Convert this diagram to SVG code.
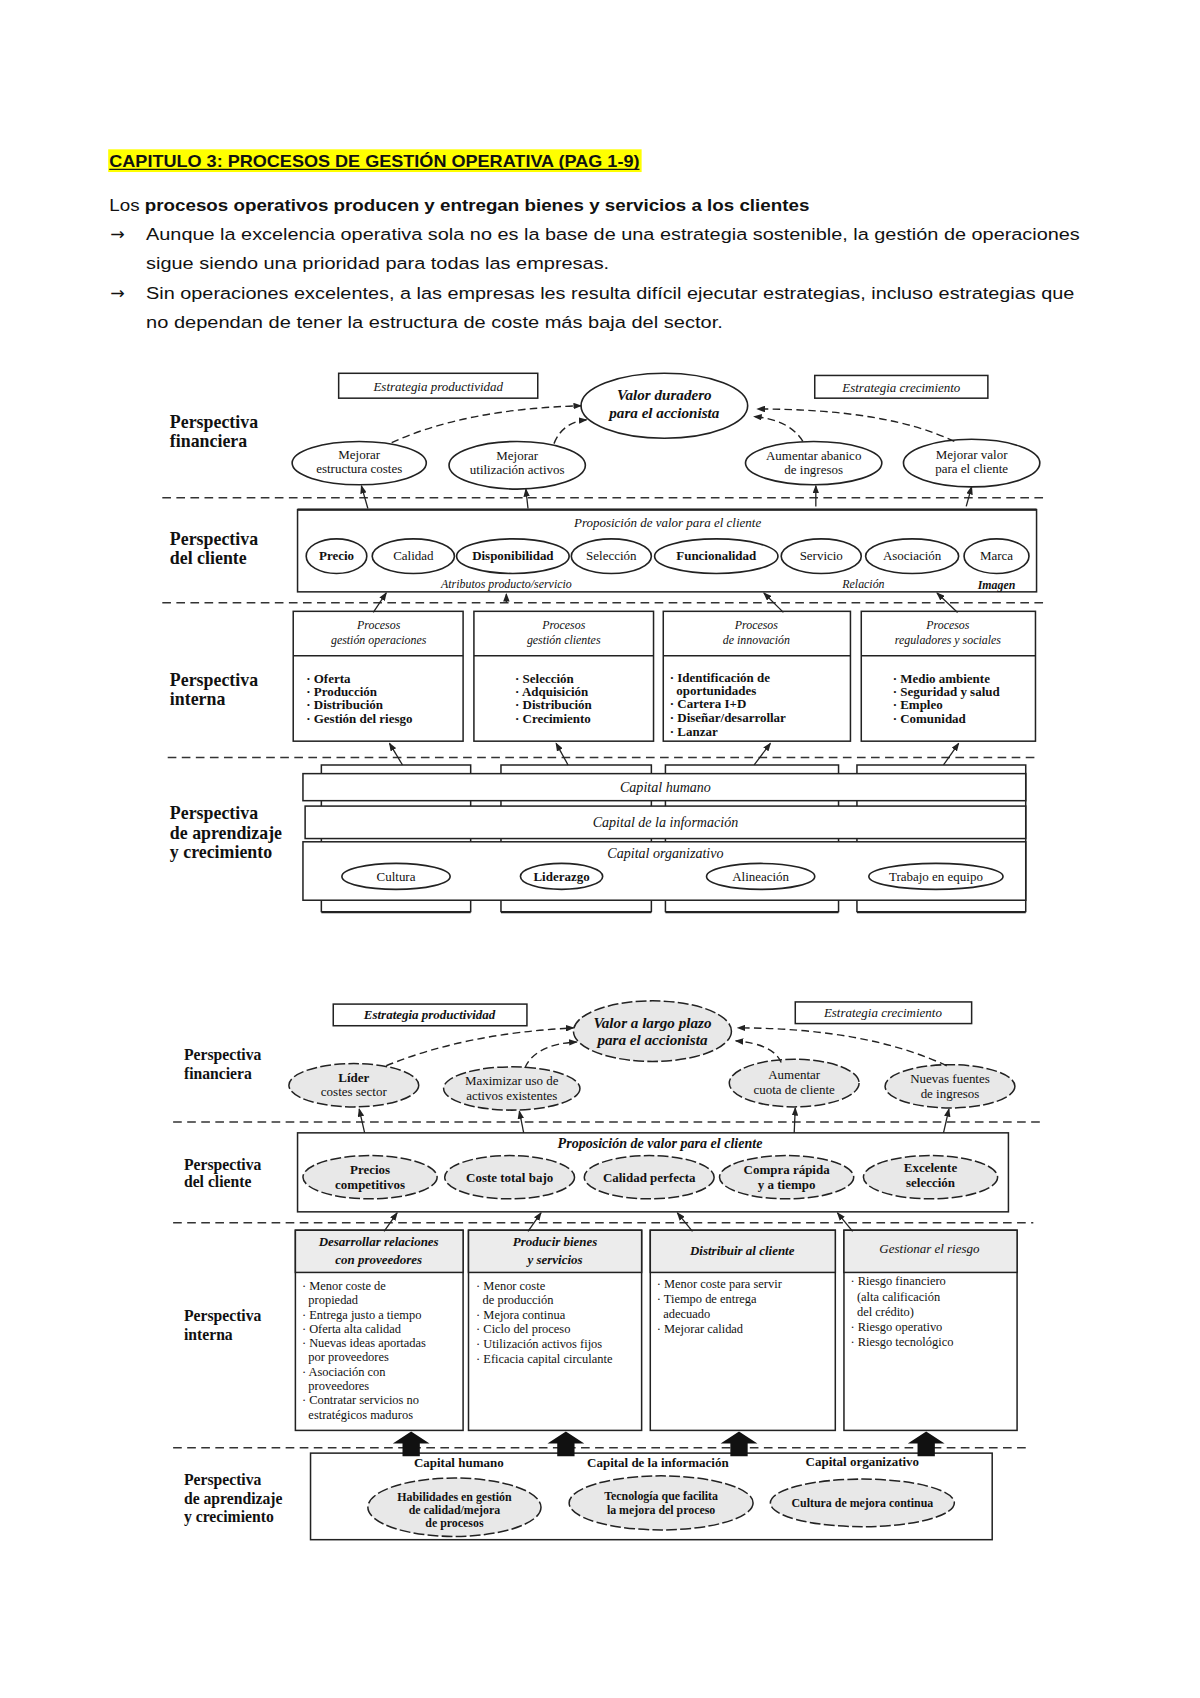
<svg xmlns="http://www.w3.org/2000/svg" width="1200" height="1698" viewBox="0 0 1200 1698">
<defs>
<style>
.hdr{font-family:"Liberation Sans Narrow","Liberation Sans",Arial,sans-serif;font-size:16px;fill:#111}
.arw{font-family:"DejaVu Sans",sans-serif;font-size:16px;fill:#111}
.s{font-family:"Liberation Serif","Times New Roman",serif;fill:#111}
.lbl{font-size:16.5px;font-weight:bold}
.el{font-size:12px}
.it{font-style:italic}
.b{font-weight:bold}
.ln{fill:none;stroke:#222;stroke-width:1.4}
.dash{fill:none;stroke:#333;stroke-width:1.4;stroke-dasharray:8 5}
.box{fill:#fff;stroke:#222;stroke-width:1.4}
.gbox{fill:#ececec;stroke:#222;stroke-width:1.4}
.ell{fill:#fff;stroke:#222;stroke-width:1.5}
.gell{fill:#e8e8e8;stroke:#222;stroke-width:1.4;stroke-dasharray:10 3}
.arr{fill:none;stroke:#222;stroke-width:1.2;marker-end:url(#ah)}
.darr{fill:none;stroke:#222;stroke-width:1.3;stroke-dasharray:7 4;marker-end:url(#ah)}
.blk{fill:#111}
</style>
<marker id="ah" markerWidth="8" markerHeight="6" refX="7" refY="3" orient="auto" markerUnits="userSpaceOnUse">
<path d="M0,0 L8,3 L0,6 z" fill="#222"/>
</marker>
</defs>
<rect width="1200" height="1698" fill="#fff"/>
<g transform="scale(1.082)">
<g id="header">
<rect x="100" y="138" width="493" height="21" fill="#ffff00"/>
<text class="hdr b" x="101" y="154" textLength="490" lengthAdjust="spacingAndGlyphs" font-weight="bold">CAPITULO 3: PROCESOS DE GESTIÓN OPERATIVA (PAG 1-9)</text>
<line x1="101" y1="156.5" x2="591" y2="156.5" stroke="#111" stroke-width="1.2"/>
<text class="hdr" x="101" y="195" textLength="647" lengthAdjust="spacingAndGlyphs">Los <tspan font-weight="bold">procesos operativos producen y entregan bienes y servicios a los clientes</tspan></text>
<text class="arw" x="102" y="222">→</text>
<text class="hdr" x="135" y="222" textLength="863" lengthAdjust="spacingAndGlyphs">Aunque la excelencia operativa sola no es la base de una estrategia sostenible, la gestión de operaciones</text>
<text class="hdr" x="135" y="249" textLength="428" lengthAdjust="spacingAndGlyphs">sigue siendo una prioridad para todas las empresas.</text>
<text class="arw" x="102" y="276">→</text>
<text class="hdr" x="135" y="276" textLength="858" lengthAdjust="spacingAndGlyphs">Sin operaciones excelentes, a las empresas les resulta difícil ejecutar estrategias, incluso estrategias que</text>
<text class="hdr" x="135" y="303" textLength="533" lengthAdjust="spacingAndGlyphs">no dependan de tener la estructura de coste más baja del sector.</text>
</g>

<!-- ===== Diagram 1 ===== -->
<g id="d1-labels" class="s lbl">
<text x="157" y="396">Perspectiva</text><text x="157" y="413">financiera</text>
<text x="157" y="504">Perspectiva</text><text x="157" y="521">del cliente</text>
<text x="157" y="634">Perspectiva</text><text x="157" y="652">interna</text>
<text x="157" y="757">Perspectiva</text><text x="157" y="775">de aprendizaje</text><text x="157" y="793">y crecimiento</text>
</g>
<g id="d1-separators">
<line class="dash" x1="150" y1="460" x2="965" y2="460"/>
<line class="dash" x1="150" y1="557" x2="965" y2="557"/>
<line class="dash" x1="155" y1="700" x2="960" y2="700"/>
</g>
<g id="d1-strat-prod"><rect class="box" x="313" y="345" width="184" height="23"/><text class="s it el" x="405" y="361" text-anchor="middle">Estrategia productividad</text></g>
<g id="d1-strat-crec"><rect class="box" x="753" y="347" width="160" height="21"/><text class="s it el" x="833" y="362" text-anchor="middle">Estrategia crecimiento</text></g>
<g id="d1-valor"><ellipse class="ell" cx="614" cy="375" rx="77" ry="30"/><text class="s it b" font-size="14" x="614" y="370" text-anchor="middle">Valor duradero</text><text class="s it b" font-size="14" x="614" y="386" text-anchor="middle">para el accionista</text></g>
<g id="d1-f1"><ellipse class="ell" cx="332" cy="428" rx="62" ry="20"/><text class="s el" x="332" y="424" text-anchor="middle">Mejorar</text><text class="s el" x="332" y="437" text-anchor="middle">estructura costes</text></g>
<g id="d1-f2"><ellipse class="ell" cx="478" cy="430" rx="63" ry="22"/><text class="s el" x="478" y="425" text-anchor="middle">Mejorar</text><text class="s el" x="478" y="438" text-anchor="middle">utilización activos</text></g>
<g id="d1-f3"><ellipse class="ell" cx="752" cy="428" rx="63" ry="20"/><text class="s el" x="752" y="425" text-anchor="middle">Aumentar abanico</text><text class="s el" x="752" y="438" text-anchor="middle">de ingresos</text></g>
<g id="d1-f4"><ellipse class="ell" cx="898" cy="428" rx="63" ry="22"/><text class="s el" x="898" y="424" text-anchor="middle">Mejorar valor</text><text class="s el" x="898" y="437" text-anchor="middle">para el cliente</text></g>

<g id="d1-client">
<rect class="box" x="275" y="471" width="683" height="76"/>
<line x1="275" y1="471" x2="958" y2="471" stroke="#222" stroke-width="2"/>
<text class="s it el" x="617" y="487" text-anchor="middle">Proposición de valor para el cliente</text>
<ellipse class="ell" cx="311" cy="514" rx="28" ry="16"/><text class="s el b" x="311" y="518" text-anchor="middle">Precio</text>
<ellipse class="ell" cx="382" cy="514" rx="38" ry="16"/><text class="s el" x="382" y="518" text-anchor="middle">Calidad</text>
<ellipse class="ell" cx="474" cy="514" rx="52" ry="16"/><text class="s el b" x="474" y="518" text-anchor="middle">Disponibilidad</text>
<ellipse class="ell" cx="565" cy="514" rx="37" ry="16"/><text class="s el" x="565" y="518" text-anchor="middle">Selección</text>
<ellipse class="ell" cx="662" cy="514" rx="57" ry="16"/><text class="s el b" x="662" y="518" text-anchor="middle">Funcionalidad</text>
<ellipse class="ell" cx="759" cy="514" rx="37" ry="16"/><text class="s el" x="759" y="518" text-anchor="middle">Servicio</text>
<ellipse class="ell" cx="843" cy="514" rx="43" ry="16"/><text class="s el" x="843" y="518" text-anchor="middle">Asociación</text>
<ellipse class="ell" cx="921" cy="514" rx="30" ry="16"/><text class="s el" x="921" y="518" text-anchor="middle">Marca</text>
<text class="s it" font-size="11" x="468" y="543" text-anchor="middle">Atributos producto/servicio</text>
<text class="s it" font-size="11" x="798" y="543" text-anchor="middle">Relación</text>
<text class="s it b" font-size="11" x="921" y="544" text-anchor="middle">Imagen</text>
</g>

<g id="d1-int1"><rect class="box" x="271" y="565" width="157" height="120"/><line class="ln" x1="271" y1="606" x2="428" y2="606"/>
<text class="s it" font-size="11" x="350" y="581" text-anchor="middle">Procesos</text><text class="s it" font-size="11" x="350" y="595" text-anchor="middle">gestión operaciones</text>
<text class="s el b" x="283" y="631">· Oferta</text><text class="s el b" x="283" y="643">· Producción</text><text class="s el b" x="283" y="655">· Distribución</text><text class="s el b" x="283" y="668">· Gestión del riesgo</text></g>
<g id="d1-int2"><rect class="box" x="438" y="565" width="166" height="120"/><line class="ln" x1="438" y1="606" x2="604" y2="606"/>
<text class="s it" font-size="11" x="521" y="581" text-anchor="middle">Procesos</text><text class="s it" font-size="11" x="521" y="595" text-anchor="middle">gestión clientes</text>
<text class="s el b" x="476" y="631">· Selección</text><text class="s el b" x="476" y="643">· Adquisición</text><text class="s el b" x="476" y="655">· Distribución</text><text class="s el b" x="476" y="668">· Crecimiento</text></g>
<g id="d1-int3"><rect class="box" x="613" y="565" width="173" height="120"/><line class="ln" x1="613" y1="606" x2="786" y2="606"/>
<text class="s it" font-size="11" x="699" y="581" text-anchor="middle">Procesos</text><text class="s it" font-size="11" x="699" y="595" text-anchor="middle">de innovación</text>
<text class="s el b" x="619" y="630">· Identificación de</text><text class="s el b" x="625" y="642">oportunidades</text><text class="s el b" x="619" y="654">· Cartera I+D</text><text class="s el b" x="619" y="667">· Diseñar/desarrollar</text><text class="s el b" x="619" y="680">· Lanzar</text></g>
<g id="d1-int4"><rect class="box" x="796" y="565" width="161" height="120"/><line class="ln" x1="796" y1="606" x2="957" y2="606"/>
<text class="s it" font-size="11" x="876" y="581" text-anchor="middle">Procesos</text><text class="s it" font-size="11" x="876" y="595" text-anchor="middle">reguladores y sociales</text>
<text class="s el b" x="825" y="631">· Medio ambiente</text><text class="s el b" x="825" y="643">· Seguridad y salud</text><text class="s el b" x="825" y="655">· Empleo</text><text class="s el b" x="825" y="668">· Comunidad</text></g>

<g id="d1-learning">
<g fill="none" stroke="#222" stroke-width="1.4">
<path d="M297 843 V707 H435 V843 M463 843 V707 H602 V843 M615 843 V707 H775 V843 M792 843 V707 H948 V843"/>
<path d="M297 843 H435 M463 843 H602 M615 843 H775 M792 843 H948" stroke-width="2.2"/>
</g>
<rect class="box" x="280" y="715" width="668" height="25"/>
<text class="s it" font-size="13" x="615" y="732" text-anchor="middle">Capital humano</text>
<rect class="box" x="282" y="745" width="666" height="30"/>
<text class="s it" font-size="13" x="615" y="764" text-anchor="middle">Capital de la información</text>
<rect class="box" x="280" y="778" width="668" height="54"/>
<text class="s it" font-size="13" x="615" y="793" text-anchor="middle">Capital organizativo</text>
<ellipse class="ell" cx="366" cy="810" rx="50" ry="12"/><text class="s el" x="366" y="814" text-anchor="middle">Cultura</text>
<ellipse class="ell" cx="519" cy="810" rx="38" ry="12"/><text class="s el b" x="519" y="814" text-anchor="middle">Liderazgo</text>
<ellipse class="ell" cx="703" cy="810" rx="50" ry="12"/><text class="s el" x="703" y="814" text-anchor="middle">Alineación</text>
<ellipse class="ell" cx="865" cy="810" rx="62" ry="12"/><text class="s el" x="865" y="814" text-anchor="middle">Trabajo en equipo</text>
</g>

<g id="d1-connectors">
<path class="darr" d="M362 409 Q430 378 537 375"/>
<path class="darr" d="M512 410 Q520 390 542 388"/>
<path class="darr" d="M742 408 Q730 388 697 385"/>
<path class="darr" d="M882 408 Q820 378 700 378"/>
<path class="arr" d="M340 470 L334 449"/>
<path class="arr" d="M488 470 L486 452"/>
<path class="arr" d="M754 468 L754 449"/>
<path class="arr" d="M893 468 L898 450"/>
<path class="arr" d="M345 566 L357 548"/>
<path class="arr" d="M468 557 L468 549"/>
<path class="arr" d="M724 566 L706 548"/>
<path class="arr" d="M885 566 L866 548"/>
<path class="arr" d="M372 707 L360 687"/>
<path class="arr" d="M525 707 L514 687"/>
<path class="arr" d="M697 707 L712 687"/>
<path class="arr" d="M872 707 L886 687"/>
</g>

<!-- ===== Diagram 2 ===== -->
<g id="d2-labels" class="s" font-size="14.5" font-weight="bold">
<text x="170" y="980">Perspectiva</text><text x="170" y="997">financiera</text>
<text x="170" y="1081">Perspectiva</text><text x="170" y="1097">del cliente</text>
<text x="170" y="1221">Perspectiva</text><text x="170" y="1238">interna</text>
<text x="170" y="1372">Perspectiva</text><text x="170" y="1390">de aprendizaje</text><text x="170" y="1407">y crecimiento</text>
</g>
<g id="d2-separators">
<line class="dash" x1="160" y1="1037" x2="965" y2="1037"/>
<line class="dash" x1="160" y1="1130" x2="955" y2="1130"/>
<line class="dash" x1="160" y1="1338" x2="950" y2="1338"/>
</g>
<g id="d2-strat-prod"><rect class="box" x="308" y="928" width="179" height="20"/><text class="s it b el" x="397" y="942" text-anchor="middle">Estrategia productividad</text></g>
<g id="d2-strat-crec"><rect class="box" x="735" y="926" width="163" height="20"/><text class="s it el" x="816" y="940" text-anchor="middle">Estrategia crecimiento</text></g>
<g id="d2-valor"><ellipse class="gell" cx="603" cy="953" rx="73" ry="28"/><text class="s it b" font-size="14" x="603" y="950" text-anchor="middle">Valor a largo plazo</text><text class="s it b" font-size="14" x="603" y="966" text-anchor="middle">para el accionista</text></g>
<g id="d2-f1"><ellipse class="gell" cx="327" cy="1003" rx="60" ry="20"/><text class="s el b" x="327" y="1000" text-anchor="middle">Líder</text><text class="s el" x="327" y="1013" text-anchor="middle">costes sector</text></g>
<g id="d2-f2"><ellipse class="gell" cx="473" cy="1006" rx="63" ry="20"/><text class="s el" x="473" y="1003" text-anchor="middle">Maximizar uso de</text><text class="s el" x="473" y="1017" text-anchor="middle">activos existentes</text></g>
<g id="d2-f3"><ellipse class="gell" cx="734" cy="1001" rx="60" ry="22"/><text class="s el" x="734" y="997" text-anchor="middle">Aumentar</text><text class="s el" x="734" y="1011" text-anchor="middle">cuota de cliente</text></g>
<g id="d2-f4"><ellipse class="gell" cx="878" cy="1004" rx="60" ry="20"/><text class="s el" x="878" y="1001" text-anchor="middle">Nuevas fuentes</text><text class="s el" x="878" y="1015" text-anchor="middle">de ingresos</text></g>

<g id="d2-client">
<rect class="box" x="275" y="1047" width="657" height="73"/>
<text class="s it b" font-size="13" x="610" y="1061" text-anchor="middle">Proposición de valor para el cliente</text>
<ellipse class="gell" cx="342" cy="1088" rx="62" ry="20"/><text class="s el b" x="342" y="1085" text-anchor="middle">Precios</text><text class="s el b" x="342" y="1099" text-anchor="middle">competitivos</text>
<ellipse class="gell" cx="471" cy="1088" rx="60" ry="20"/><text class="s el b" x="471" y="1092" text-anchor="middle">Coste total bajo</text>
<ellipse class="gell" cx="600" cy="1088" rx="60" ry="20"/><text class="s el b" x="600" y="1092" text-anchor="middle">Calidad perfecta</text>
<ellipse class="gell" cx="727" cy="1088" rx="62" ry="20"/><text class="s el b" x="727" y="1085" text-anchor="middle">Compra rápida</text><text class="s el b" x="727" y="1099" text-anchor="middle">y a tiempo</text>
<ellipse class="gell" cx="860" cy="1088" rx="62" ry="20"/><text class="s el b" x="860" y="1083" text-anchor="middle">Excelente</text><text class="s el b" x="860" y="1097" text-anchor="middle">selección</text>
</g>

<g id="d2-int1"><rect class="box" x="273" y="1137" width="155" height="185"/><rect class="gbox" x="273" y="1137" width="155" height="39"/>
<text class="s it b el" x="350" y="1152" text-anchor="middle">Desarrollar relaciones</text><text class="s it b el" x="350" y="1168" text-anchor="middle">con proveedores</text>
<g class="s" font-size="11.5"><text x="279" y="1192">· Menor coste de</text><text x="285" y="1205">propiedad</text><text x="279" y="1219">· Entrega justo a tiempo</text><text x="279" y="1232">· Oferta alta calidad</text><text x="279" y="1245">· Nuevas ideas aportadas</text><text x="285" y="1258">por proveedores</text><text x="279" y="1272">· Asociación con</text><text x="285" y="1285">proveedores</text><text x="279" y="1298">· Contratar servicios no</text><text x="285" y="1311">estratégicos maduros</text></g></g>
<g id="d2-int2"><rect class="box" x="433" y="1137" width="160" height="185"/><rect class="gbox" x="433" y="1137" width="160" height="39"/>
<text class="s it b el" x="513" y="1152" text-anchor="middle">Producir bienes</text><text class="s it b el" x="513" y="1168" text-anchor="middle">y servicios</text>
<g class="s" font-size="11.5"><text x="440" y="1192">· Menor coste</text><text x="446" y="1205">de producción</text><text x="440" y="1219">· Mejora continua</text><text x="440" y="1232">· Ciclo del proceso</text><text x="440" y="1246">· Utilización activos fijos</text><text x="440" y="1260">· Eficacia capital circulante</text></g></g>
<g id="d2-int3"><rect class="box" x="601" y="1137" width="171" height="185"/><rect class="gbox" x="601" y="1137" width="171" height="39"/>
<text class="s it b el" x="686" y="1160" text-anchor="middle">Distribuir al cliente</text>
<g class="s" font-size="11.5"><text x="607" y="1190">· Menor coste para servir</text><text x="607" y="1204">· Tiempo de entrega</text><text x="613" y="1218">adecuado</text><text x="607" y="1232">· Mejorar calidad</text></g></g>
<g id="d2-int4"><rect class="box" x="780" y="1137" width="160" height="185"/><rect class="gbox" x="780" y="1137" width="160" height="39"/>
<text class="s it el" x="859" y="1158" text-anchor="middle">Gestionar el riesgo</text>
<g class="s" font-size="11.5"><text x="786" y="1188">· Riesgo financiero</text><text x="792" y="1202">(alta calificación</text><text x="792" y="1216">del crédito)</text><text x="786" y="1230">· Riesgo operativo</text><text x="786" y="1244">· Riesgo tecnológico</text></g></g>

<g id="d2-learning">
<rect class="box" x="287" y="1343" width="630" height="80"/>
<text class="s el b" x="424" y="1356" text-anchor="middle">Capital humano</text>
<text class="s el b" x="608" y="1356" text-anchor="middle">Capital de la información</text>
<text class="s el b" x="797" y="1355" text-anchor="middle">Capital organizativo</text>
<ellipse class="gell" cx="420" cy="1393" rx="80" ry="27"/><text class="s b" font-size="11" x="420" y="1387" text-anchor="middle">Habilidades en gestión</text><text class="s b" font-size="11" x="420" y="1399" text-anchor="middle">de calidad/mejora</text><text class="s b" font-size="11" x="420" y="1411" text-anchor="middle">de procesos</text>
<ellipse class="gell" cx="611" cy="1389" rx="85" ry="25"/><text class="s b" font-size="11" x="611" y="1386" text-anchor="middle">Tecnología que facilita</text><text class="s b" font-size="11" x="611" y="1399" text-anchor="middle">la mejora del proceso</text>
<ellipse class="gell" cx="797" cy="1389" rx="85" ry="22"/><text class="s b" font-size="11" x="797" y="1393" text-anchor="middle">Cultura de mejora continua</text>
</g>

<g id="d2-connectors">
<path class="darr" d="M357 985 Q430 955 530 950"/>
<path class="darr" d="M485 987 Q495 965 533 963"/>
<path class="darr" d="M722 982 Q715 965 680 962"/>
<path class="darr" d="M875 985 Q800 950 682 950"/>
<path class="arr" d="M337 1047 L332 1025"/>
<path class="arr" d="M484 1047 L480 1027"/>
<path class="arr" d="M734 1047 L735 1024"/>
<path class="arr" d="M872 1047 L877 1025"/>
<path class="arr" d="M355 1138 L367 1121"/>
<path class="arr" d="M488 1138 L500 1121"/>
<path class="arr" d="M640 1138 L626 1121"/>
<path class="arr" d="M788 1138 L774 1121"/>
<path class="blk" d="M380 1323 L397 1334 L388 1334 L388 1346 L372 1346 L372 1334 L363 1334 Z"/>
<path class="blk" d="M523 1323 L540 1334 L531 1334 L531 1346 L515 1346 L515 1334 L506 1334 Z"/>
<path class="blk" d="M683 1323 L700 1334 L691 1334 L691 1346 L675 1346 L675 1334 L666 1334 Z"/>
<path class="blk" d="M856 1323 L873 1334 L864 1334 L864 1346 L848 1346 L848 1334 L839 1334 Z"/>
</g>
</g>
</svg>
